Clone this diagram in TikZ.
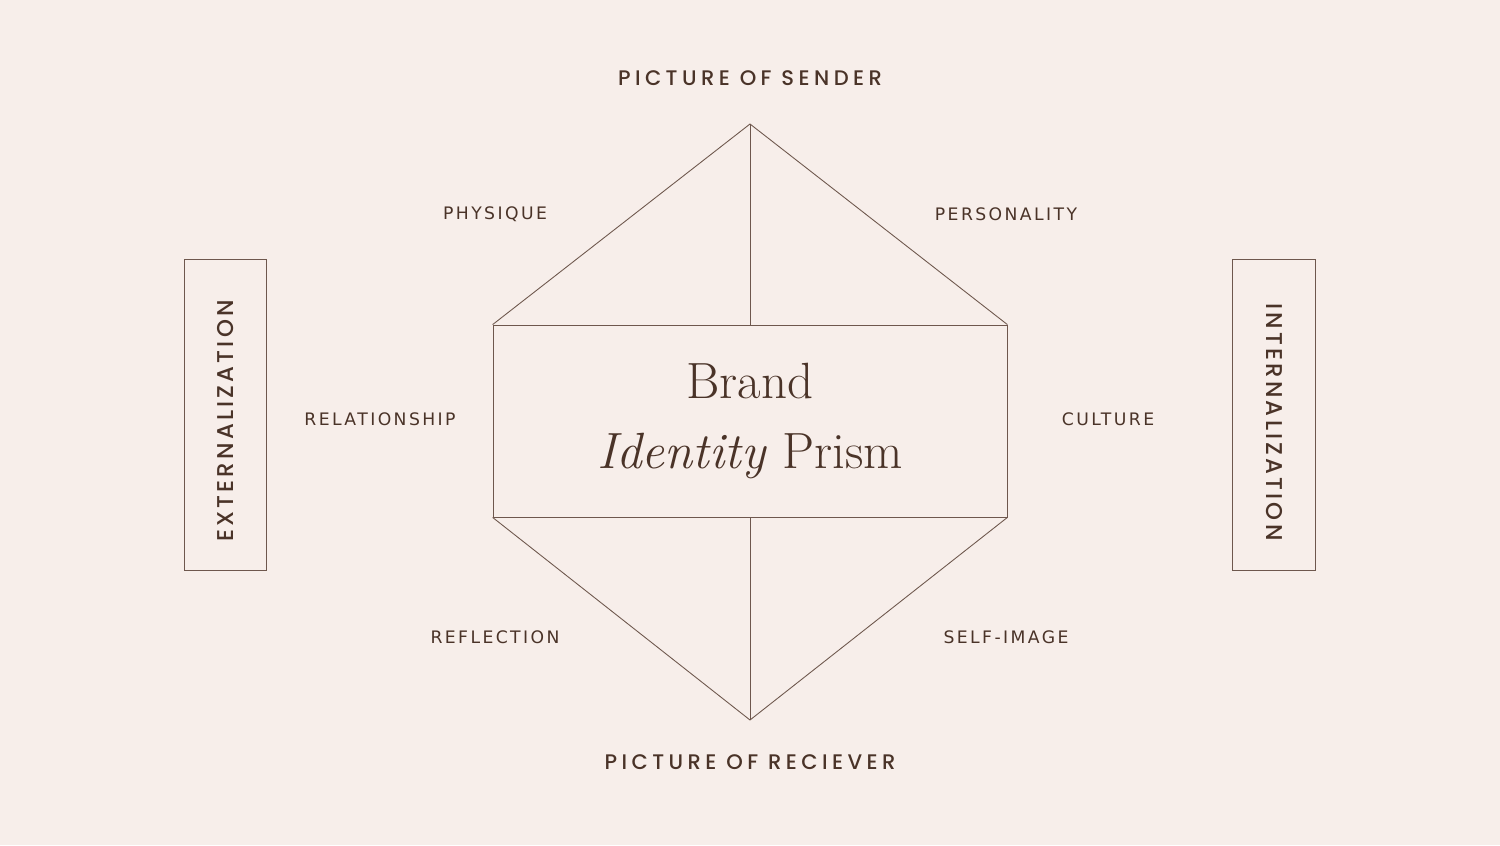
\documentclass[tikz,border=0pt]{standalone}
\usepackage{fontspec}
\usepackage{xcolor}
\newfontfamily\headfont[LetterSpace=21,BoldFont={Poppins Medium}]{Poppins}
\newfontfamily\sidefont[LetterSpace=14,BoldFont={Poppins Medium}]{Poppins}
\newfontfamily\labelfont[LetterSpace=14]{DejaVu Sans}
\definecolor{bgcream}{HTML}{F7EEEA}
\definecolor{ink}{HTML}{4A3328}
\definecolor{edge}{HTML}{6E574D}

\begin{document}
\begin{tikzpicture}[x=0.02cm,y=-0.02cm,
    head/.style={text=ink,font=\headfont\bfseries\fontsize{12}{14}\selectfont},
    side/.style={text=ink,font=\sidefont\bfseries\fontsize{13}{15}\selectfont},
    facet/.style={text=ink,font=\labelfont\fontsize{9.8}{12}\selectfont},
    prism/.style={draw=edge,line width=0.5pt,rectangle,inner sep=0pt,
        minimum width=10.28cm,minimum height=3.84cm,align=center,text=ink,
        font=\fontsize{29}{40}\selectfont},
    sidebox/.style={draw=edge,line width=0.5pt,rectangle,inner sep=0pt,
        minimum width=1.65cm,minimum height=6.22cm},
    edgeline/.style={draw=edge,line width=0.5pt},]
\fill[bgcream] (0,0) rectangle (1500,845);
% central prism
\node[prism] (core) at (750,421) {Brand\\ \textit{Identity} Prism};
\coordinate (sender) at (750,124);
\coordinate (receiver) at (750,720);
\draw[edgeline] (core.north west) -- (sender) -- (core.north east);
\draw[edgeline] (sender) -- (core.north);
\draw[edgeline] (core.south west) -- (receiver) -- (core.south east);
\draw[edgeline] (core.south) -- (receiver);
% titles
\node[head] (top) at (750,78) {PICTURE OF SENDER};
\node[head] (bottom) at (750,762) {PICTURE OF RECIEVER};
\node[facet] (physique) at (495,214) {PHYSIQUE};
\node[facet] (personality) at (1006,214) {PERSONALITY};
\node[facet] (relationship) at (380,419) {RELATIONSHIP};
\node[facet] (culture) at (1108,419) {CULTURE};
\node[facet] (reflection) at (495,637) {REFLECTION};
\node[facet] (selfimage) at (1006,637) {SELF-IMAGE};
% side boxes
\node[sidebox] (extbox) at (225.5,414.5) {};
\node[sidebox] (intbox) at (1274,414.5) {};
\node[side,rotate=90] (ext) at (226,421) {EXTERNALIZATION};
\node[side,rotate=-90] (int) at (1274,422) {INTERNALIZATION};
\end{tikzpicture}
\end{document}
